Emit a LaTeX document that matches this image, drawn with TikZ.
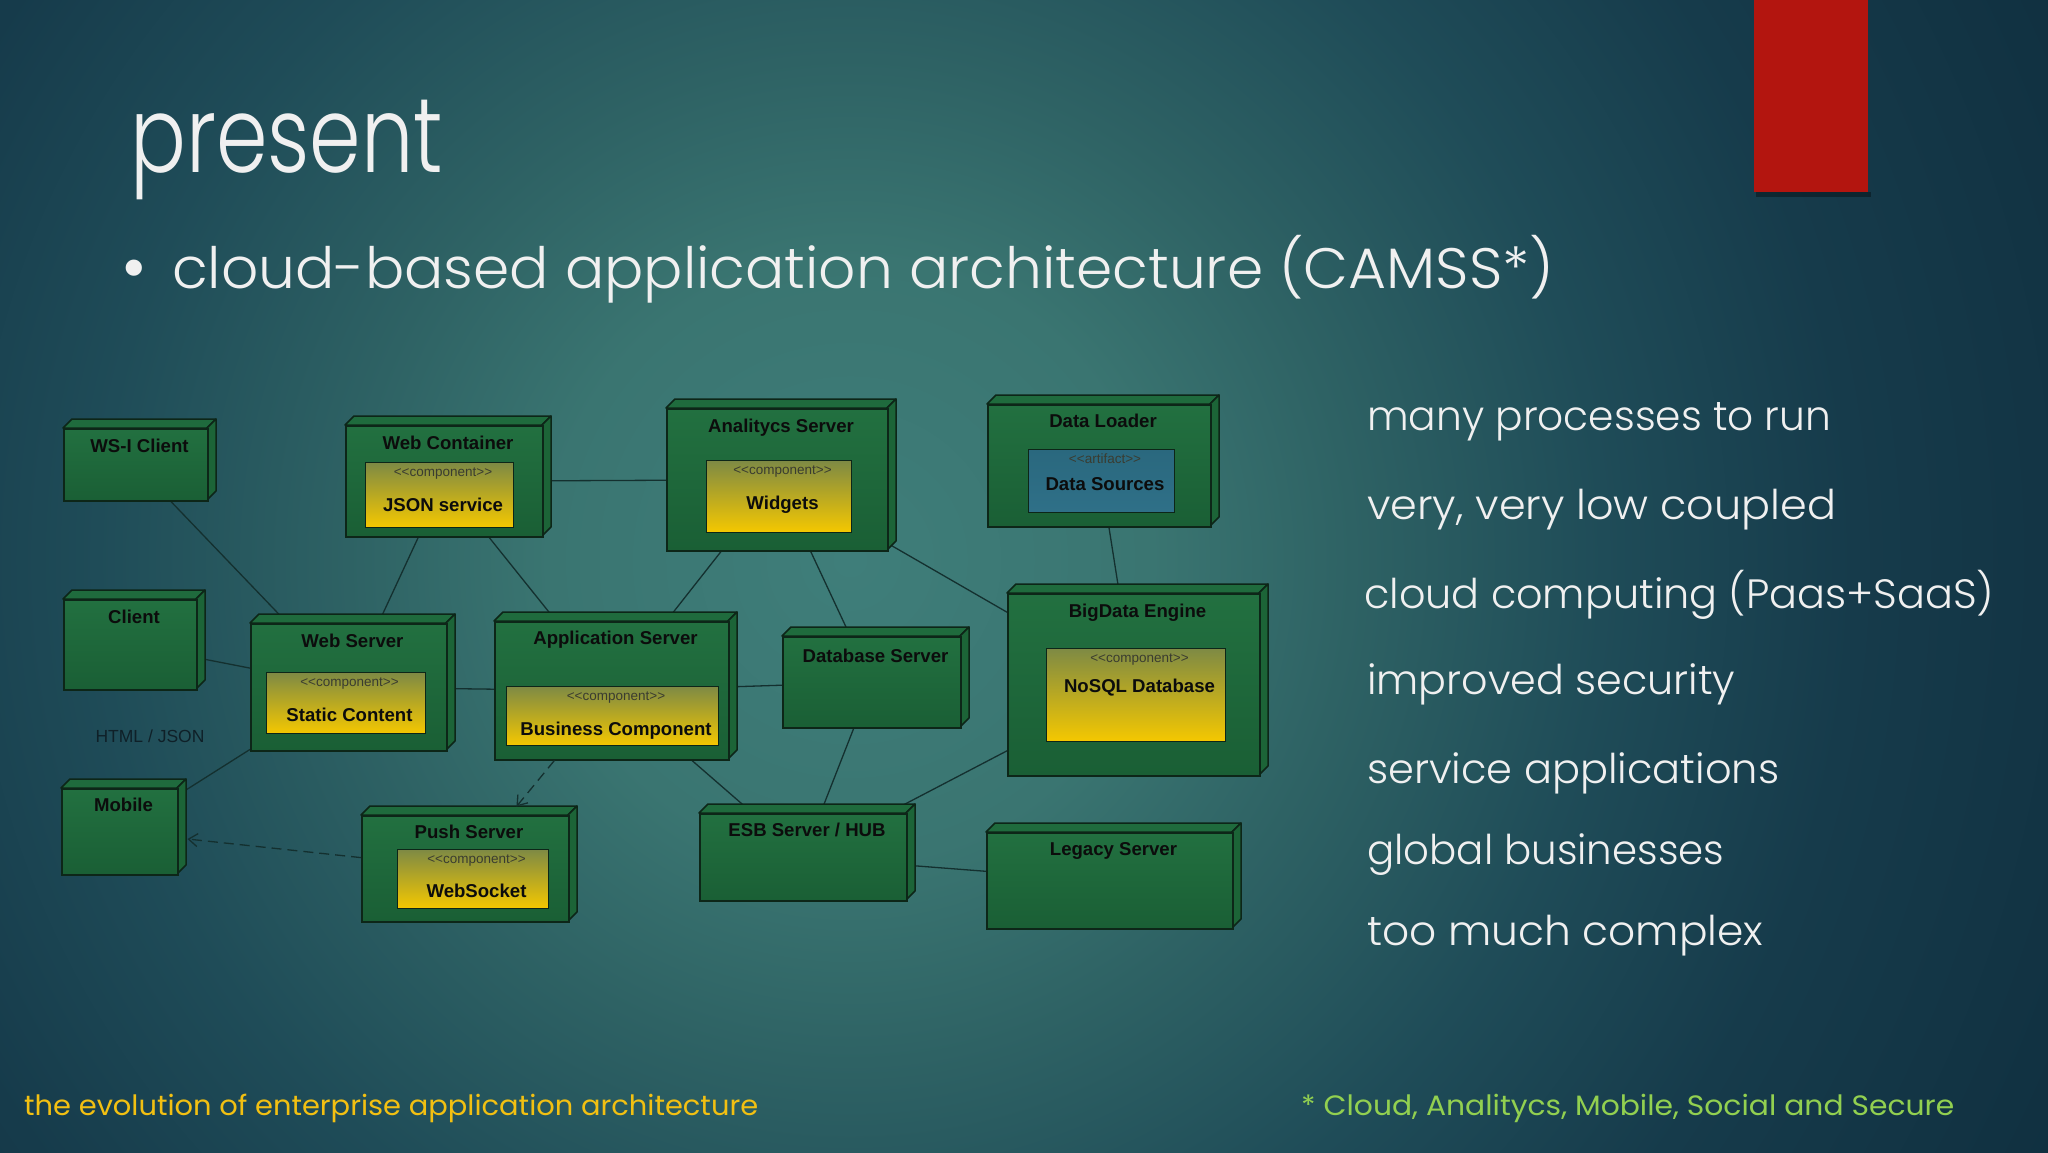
\documentclass[tikz,border=0pt]{standalone}
\usepackage{fontspec}
\usepackage{graphicx}
\usetikzlibrary{arrows.meta}
\IfFontExistsTF{Poppins Light}{\newfontfamily\slidefont{Poppins Light}}{\newfontfamily\slidefont{Poppins}}
\newfontfamily\footfont{Poppins}
\newfontfamily\diagfont{Liberation Sans}

\definecolor{bgA}{HTML}{3F7E7A}
\definecolor{bgB}{HTML}{3A7571}
\definecolor{bgC}{HTML}{2E6264}
\definecolor{bgD}{HTML}{1F4C58}
\definecolor{bgE}{HTML}{163B4B}
\definecolor{bgF}{HTML}{0F2E3E}
\definecolor{gFace}{HTML}{1F6B3D}
\definecolor{gSide}{HTML}{1C6437}
\definecolor{gTop}{HTML}{227040}
\definecolor{gBot}{HTML}{1A5F35}
\definecolor{boxedge}{HTML}{0D2618}
\definecolor{cTop}{HTML}{7E8A44}
\definecolor{cBot}{HTML}{F5C800}
\definecolor{aTop}{HTML}{2A687E}
\definecolor{aBot}{HTML}{2F7088}
\definecolor{nodeText}{HTML}{0C0C0C}
\definecolor{stereoText}{HTML}{3A3C30}
\definecolor{lineCol}{HTML}{14302F}
\definecolor{labelCol}{HTML}{0F2028}
\definecolor{txtwhite}{HTML}{F0F0F0}
\definecolor{footY}{HTML}{F2C012}
\definecolor{footG}{HTML}{92D050}
\definecolor{redc}{HTML}{B3150F}

\pgfdeclareradialshading{bgshade}{\pgfpoint{0bp}{0bp}}{color(0bp)=(bgA); color(300bp)=(bgB); color(500bp)=(bgC); color(750bp)=(bgD); color(1000bp)=(bgE); color(1400bp)=(bgF)}

\pgfdeclarelayer{bglayer}
\pgfdeclarelayer{linelayer}
\pgfsetlayers{bglayer,linelayer,main}

\tikzset{
  frontbox/.style={rectangle, draw=boxedge, line width=1.5pt, top color=gTop, bottom color=gBot, inner sep=0pt, anchor=north west},
  facebox/.style={fill=gFace, draw=boxedge, line width=1.5pt, line join=round},
  sidebox/.style={fill=gSide, draw=boxedge, line width=1.5pt, line join=round},
  ntitle/.style={font=\diagfont\bfseries\fontsize{18.6}{20}\selectfont, text=nodeText, anchor=base, inner sep=0pt},
  stereo/.style={font=\diagfont\fontsize{13.5}{15}\selectfont, text=stereoText, anchor=base, inner sep=0pt},
  compbox/.style={rectangle, draw=boxedge, line width=1.3pt, top color=cTop, bottom color=cBot, inner sep=0pt, anchor=north west},
  artbox/.style={rectangle, draw=boxedge, line width=1.3pt, top color=aTop, bottom color=aBot, inner sep=0pt, anchor=north west},
  conn/.style={draw=lineCol, line width=1.3pt},
  dep/.style={conn, dash pattern=on 10pt off 6pt, -{Straight Barb[length=9pt,width=13pt]}},
  slidetxt/.style={anchor=base west, inner sep=0pt, text=txtwhite},
  listtxt/.style={slidetxt, font=\slidefont\fontsize{41}{44}\selectfont},
}

\newcommand\umlbox[7]{%
  \filldraw[facebox] (#2,#3) -- (#2+9,#3-9) -- (#4+9,#3-9) -- (#4,#3) -- cycle;
  \filldraw[sidebox] (#4,#3) -- (#4+9,#3-9) -- (#4+9,#5-9) -- (#4,#5) -- cycle;
  \node[frontbox, minimum width={(#4-#2)*1pt}, minimum height={(#5-#3)*1pt}] (#1) at (#2,#3) {};
  \node[ntitle] (#1-title) at ({(#2+#4+9)/2},#7) {#6};
}
\newcommand\umlcomp[9]{%
  \node[#1, minimum width={(#5-#3)*1pt}, minimum height={(#6-#4)*1pt}] (#2) at (#3,#4) {};
  \node[stereo] (#2-st) at ({(#3+#5)/2+4},#4+14) {#7};
  \node[ntitle] (#2-nm) at ({(#3+#5)/2+4},#4+#9) {#8};
}
\newcommand\stc{<\kern0pt<component>\kern0pt>}
\newcommand\sta{<\kern0pt<artifact>\kern0pt>}

\begin{document}
\begin{tikzpicture}[x=1pt, y=-1pt]
\useasboundingbox (0,0) rectangle (2048,1152);
\begin{pgfonlayer}{bglayer}
  \begin{scope}
    \clip (0,0) rectangle (2048,1152);
    \node[inner sep=0pt, anchor=center] (bgsh) at (850,560) {\pgfuseshading{bgshade}};
  \end{scope}
  \fill[black, opacity=0.35] (1756,192) rectangle (1871,197);
  \fill[redc] (1754,0) rectangle (1868,192);
\end{pgfonlayer}

% slide texts
\node[slidetxt, font=\slidefont\fontsize{106}{110}\selectfont] (title) at (130,172) {\resizebox{313pt}{\height}{present}};
\node[anchor=center, inner sep=0pt, text=txtwhite, font=\slidefont\fontsize{70}{70}\selectfont] (bul) at (134,276) {•};
\node[slidetxt, font=\slidefont\fontsize{57}{60}\selectfont] (sub) at (172,288) {\resizebox{1382pt}{\height}{cloud-based application architecture (CAMSS*)}};

\node[listtxt] (l1) at (1367,430) {\resizebox{464pt}{\height}{many processes to run}};
\node[listtxt] (l2) at (1367,519) {\resizebox{469pt}{\height}{very, very low coupled}};
\node[listtxt] (l3) at (1364,608) {\resizebox{630pt}{\height}{cloud computing (Paas+SaaS)}};
\node[listtxt] (l4) at (1367,694) {\resizebox{368pt}{\height}{improved security}};
\node[listtxt] (l5) at (1367,783) {\resizebox{412pt}{\height}{service applications}};
\node[listtxt] (l6) at (1367,864) {\resizebox{357pt}{\height}{global businesses}};
\node[listtxt] (l7) at (1367,945) {\resizebox{396pt}{\height}{too much complex}};

\node[anchor=base west, inner sep=0pt, text=footY, font=\footfont\fontsize{28}{30}\selectfont] (fl) at (24,1115) {\resizebox{734pt}{\height}{the evolution of enterprise application architecture}};
\node[anchor=base west, inner sep=0pt, text=footG, font=\footfont\fontsize{28}{30}\selectfont] (fr) at (1301,1115) {\resizebox{653pt}{\height}{* Cloud, Analitycs, Mobile, Social and Secure}};

% deployment nodes
\umlbox{wsi}{63}{428}{207}{500}{WS-I Client}{452}
\umlbox{wc}{345}{425}{542}{536}{Web Container}{449}
\umlbox{cl}{63}{599}{196}{689}{Client}{623}
\umlbox{ws}{250}{623}{446}{750}{Web Server}{647}
\umlbox{as}{494}{621}{728}{759}{Application Server}{644}
\umlbox{an}{666}{408}{887}{550}{Analitycs Server}{432}
\umlbox{db}{782}{636}{960}{727}{Database Server}{662}
\umlbox{dl}{987}{404}{1210}{526}{Data Loader}{427}
\umlbox{bd}{1007}{593}{1259}{775}{BigData Engine}{617}
\umlbox{mo}{61}{788}{177}{874}{Mobile}{811}
\umlbox{ps}{361}{815}{568}{921}{Push Server}{838}
\umlbox{esb}{699}{813}{906}{900}{ESB Server / HUB}{836}
\umlbox{lg}{986}{832}{1232}{928}{Legacy Server}{855}

\umlcomp{compbox}{wcc}{365}{462}{513}{527}{\stc}{JSON service}{49}
\umlcomp{compbox}{wsc}{266}{672}{425}{733}{\stc}{Static Content}{49}
\umlcomp{compbox}{asc}{506}{686}{718}{745}{\stc}{Business Component}{49}
\umlcomp{compbox}{anc}{706}{460}{851}{532}{\stc}{Widgets}{49}
\umlcomp{artbox}{dlc}{1028}{449}{1174}{512}{\sta}{Data Sources}{41}
\umlcomp{compbox}{bdc}{1046}{648}{1225}{741}{\stc}{NoSQL Database}{44}
\umlcomp{compbox}{psc}{397}{849}{548}{908}{\stc}{WebSocket}{48}

\node[anchor=base, inner sep=0pt, text=labelCol, font=\diagfont\fontsize{17.5}{18}\selectfont] (lbl) at (150,742) {HTML / JSON};

% connectors
\begin{pgfonlayer}{linelayer}
  \draw[conn] (wsi) -- (ws);
  \draw[conn] (cl) -- (ws);
  \draw[conn] (wc) -- (ws);
  \draw[conn] (wc) -- (as);
  \draw[conn] (wc) -- (an);
  \draw[conn] (ws) -- (as);
  \draw[conn] (ws) -- (mo);
  \draw[conn] (an) -- (as);
  \draw[conn] (an) -- (db);
  \draw[conn] (an) -- (bd);
  \draw[conn] (as) -- (db);
  \draw[conn] (as) -- (esb);
  \draw[conn] (db) -- (esb);
  \draw[conn] (esb) -- (bd);
  \draw[conn] (esb) -- (lg);
  \draw[conn] (dl) -- (bd);
\end{pgfonlayer}
\draw[dep, shorten >=11pt] (as) -- (ps);
\draw[dep, shorten >=9pt] (ps) -- (mo);
\end{tikzpicture}
\end{document}
